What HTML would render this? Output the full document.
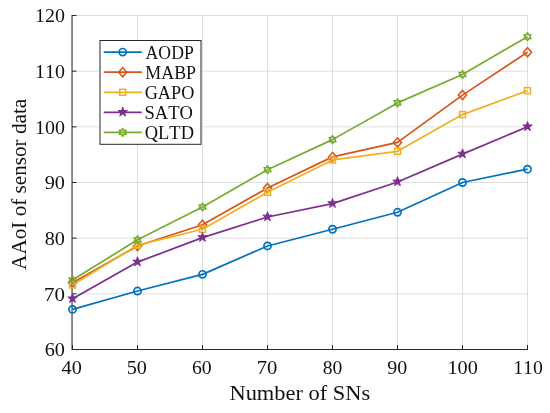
<!DOCTYPE html><html><head><meta charset="utf-8"><style>html,body{margin:0;padding:0;background:#fff;width:550px;height:413px;overflow:hidden}svg{display:block}text{font-kerning:none;font-family:"Liberation Serif","Times New Roman",serif;fill:#111}</style></head><body>
<svg width="550" height="413" viewBox="0 0 550 413">
<rect width="550" height="413" fill="#fff"/>
<path d="M72.5 15.498V349.5M137.5 15.498V349.5M202.5 15.498V349.5M267.5 15.498V349.5M332.5 15.498V349.5M397.5 15.498V349.5M462.5 15.498V349.5M527.5 15.498V349.5M72.5 349.5H527.5M72.5 293.833H527.5M72.5 238.166H527.5M72.5 182.499H527.5M72.5 126.832H527.5M72.5 71.165H527.5M72.5 15.498H527.5" stroke="#dedede" stroke-width="1" fill="none"/>
<path d="M72 14.998V350.0" stroke="#262626" stroke-width="1" fill="none"/>
<path d="M72 349.5H528.0" stroke="#262626" stroke-width="1" fill="none"/>
<path d="M72.5 349.5v-4.5M137.5 349.5v-4.5M202.5 349.5v-4.5M267.5 349.5v-4.5M332.5 349.5v-4.5M397.5 349.5v-4.5M462.5 349.5v-4.5M527.5 349.5v-4.5M72 349.5h4.5M72 293.833h4.5M72 238.166h4.5M72 182.499h4.5M72 126.832h4.5M72 71.165h4.5M72 15.498h4.5" stroke="#262626" stroke-width="1" fill="none"/>
<text x="61.58" y="373.80" font-size="19.5" textLength="20.25" lengthAdjust="spacingAndGlyphs">40</text>
<text x="126.65" y="373.80" font-size="19.5" textLength="20.18" lengthAdjust="spacingAndGlyphs">50</text>
<text x="191.98" y="373.80" font-size="19.5" textLength="19.73" lengthAdjust="spacingAndGlyphs">60</text>
<text x="256.71" y="373.80" font-size="19.5" textLength="20.63" lengthAdjust="spacingAndGlyphs">70</text>
<text x="322.69" y="373.80" font-size="19.5" textLength="19.63" lengthAdjust="spacingAndGlyphs">80</text>
<text x="387.38" y="373.80" font-size="19.5" textLength="19.95" lengthAdjust="spacingAndGlyphs">90</text>
<text x="447.42" y="373.80" font-size="19.5" textLength="30.42" lengthAdjust="spacingAndGlyphs">100</text>
<text x="513.16" y="373.80" font-size="19.5" textLength="29.66" lengthAdjust="spacingAndGlyphs">110</text>
<text x="44.67" y="356.20" font-size="19.5" textLength="20.27" lengthAdjust="spacingAndGlyphs">60</text>
<text x="43.99" y="300.53" font-size="19.5" textLength="20.97" lengthAdjust="spacingAndGlyphs">70</text>
<text x="44.67" y="244.87" font-size="19.5" textLength="20.27" lengthAdjust="spacingAndGlyphs">80</text>
<text x="44.67" y="189.20" font-size="19.5" textLength="20.27" lengthAdjust="spacingAndGlyphs">90</text>
<text x="34.99" y="133.53" font-size="19.5" textLength="29.93" lengthAdjust="spacingAndGlyphs">100</text>
<text x="34.99" y="77.87" font-size="19.5" textLength="29.93" lengthAdjust="spacingAndGlyphs">110</text>
<text x="34.99" y="22.20" font-size="19.5" textLength="29.93" lengthAdjust="spacingAndGlyphs">120</text>
<text x="229.45" y="399.60" font-size="21.5" textLength="140.72" lengthAdjust="spacingAndGlyphs">Number of SNs</text>
<g transform="translate(0,0) rotate(-90)"><text x="-269.90" y="26.40" font-size="21.5" textLength="171.13" lengthAdjust="spacingAndGlyphs">AAoI of sensor data</text></g>
<polyline points="72.50,309.42 137.50,291.05 202.50,274.35 267.50,245.96 332.50,229.26 397.50,212.28 462.50,182.50 527.50,169.14" fill="none" stroke="#0072BD" stroke-width="1.7" stroke-linejoin="round"/>
<circle cx="72.50" cy="309.42" r="3.6" fill="none" stroke="#0072BD" stroke-width="1.7"/>
<circle cx="137.50" cy="291.05" r="3.6" fill="none" stroke="#0072BD" stroke-width="1.7"/>
<circle cx="202.50" cy="274.35" r="3.6" fill="none" stroke="#0072BD" stroke-width="1.7"/>
<circle cx="267.50" cy="245.96" r="3.6" fill="none" stroke="#0072BD" stroke-width="1.7"/>
<circle cx="332.50" cy="229.26" r="3.6" fill="none" stroke="#0072BD" stroke-width="1.7"/>
<circle cx="397.50" cy="212.28" r="3.6" fill="none" stroke="#0072BD" stroke-width="1.7"/>
<circle cx="462.50" cy="182.50" r="3.6" fill="none" stroke="#0072BD" stroke-width="1.7"/>
<circle cx="527.50" cy="169.14" r="3.6" fill="none" stroke="#0072BD" stroke-width="1.7"/>
<polyline points="72.50,282.70 137.50,245.96 202.50,224.81 267.50,188.07 332.50,156.89 397.50,142.42 462.50,95.10 527.50,52.24" fill="none" stroke="#D95319" stroke-width="1.7" stroke-linejoin="round"/>
<polygon points="72.5,278.09999999999997 76.6,282.7 72.5,287.3 68.4,282.7" fill="none" stroke="#D95319" stroke-width="1.5"/>
<polygon points="137.5,241.359 141.6,245.959 137.5,250.559 133.4,245.959" fill="none" stroke="#D95319" stroke-width="1.5"/>
<polygon points="202.5,220.20600000000002 206.6,224.806 202.5,229.406 198.4,224.806" fill="none" stroke="#D95319" stroke-width="1.5"/>
<polygon points="267.5,183.466 271.6,188.066 267.5,192.666 263.4,188.066" fill="none" stroke="#D95319" stroke-width="1.5"/>
<polygon points="332.5,152.292 336.6,156.892 332.5,161.492 328.4,156.892" fill="none" stroke="#D95319" stroke-width="1.5"/>
<polygon points="397.5,137.81900000000002 401.6,142.419 397.5,147.019 393.4,142.419" fill="none" stroke="#D95319" stroke-width="1.5"/>
<polygon points="462.5,90.50200000000001 466.6,95.102 462.5,99.702 458.4,95.102" fill="none" stroke="#D95319" stroke-width="1.5"/>
<polygon points="527.5,47.638 531.6,52.238 527.5,56.838 523.4,52.238" fill="none" stroke="#D95319" stroke-width="1.5"/>
<polyline points="72.50,284.93 137.50,245.12 202.50,229.26 267.50,192.24 332.50,159.95 397.50,151.32 462.50,114.58 527.50,90.65" fill="none" stroke="#EDB120" stroke-width="1.7" stroke-linejoin="round"/>
<rect x="69.50" y="281.93" width="6.0" height="6.0" fill="none" stroke="#EDB120" stroke-width="1.5"/>
<rect x="134.50" y="242.12" width="6.0" height="6.0" fill="none" stroke="#EDB120" stroke-width="1.5"/>
<rect x="199.50" y="226.26" width="6.0" height="6.0" fill="none" stroke="#EDB120" stroke-width="1.5"/>
<rect x="264.50" y="189.24" width="6.0" height="6.0" fill="none" stroke="#EDB120" stroke-width="1.5"/>
<rect x="329.50" y="156.95" width="6.0" height="6.0" fill="none" stroke="#EDB120" stroke-width="1.5"/>
<rect x="394.50" y="148.32" width="6.0" height="6.0" fill="none" stroke="#EDB120" stroke-width="1.5"/>
<rect x="459.50" y="111.58" width="6.0" height="6.0" fill="none" stroke="#EDB120" stroke-width="1.5"/>
<rect x="524.50" y="87.65" width="6.0" height="6.0" fill="none" stroke="#EDB120" stroke-width="1.5"/>
<polyline points="72.50,298.84 137.50,262.10 202.50,237.61 267.50,217.01 332.50,203.65 397.50,181.94 462.50,154.11 527.50,126.83" fill="none" stroke="#7E2F8E" stroke-width="1.7" stroke-linejoin="round"/>
<polygon points="72.50,293.59 73.65,296.97 77.21,297.01 74.35,299.15 75.41,302.55 72.50,300.49 69.59,302.55 70.65,299.15 67.79,297.01 71.35,296.97" fill="#7E2F8E" stroke="#7E2F8E" stroke-width="1"/>
<polygon points="137.50,256.85 138.65,260.23 142.21,260.27 139.35,262.41 140.41,265.81 137.50,263.75 134.59,265.81 135.65,262.41 132.79,260.27 136.35,260.23" fill="#7E2F8E" stroke="#7E2F8E" stroke-width="1"/>
<polygon points="202.50,232.36 203.65,235.73 207.21,235.78 204.35,237.91 205.41,241.31 202.50,239.26 199.59,241.31 200.65,237.91 197.79,235.78 201.35,235.73" fill="#7E2F8E" stroke="#7E2F8E" stroke-width="1"/>
<polygon points="267.50,211.76 268.65,215.14 272.21,215.18 269.35,217.32 270.41,220.72 267.50,218.66 264.59,220.72 265.65,217.32 262.79,215.18 266.35,215.14" fill="#7E2F8E" stroke="#7E2F8E" stroke-width="1"/>
<polygon points="332.50,198.40 333.65,201.77 337.21,201.82 334.35,203.95 335.41,207.36 332.50,205.30 329.59,207.36 330.65,203.95 327.79,201.82 331.35,201.77" fill="#7E2F8E" stroke="#7E2F8E" stroke-width="1"/>
<polygon points="397.50,176.69 398.65,180.06 402.21,180.11 399.35,182.24 400.41,185.65 397.50,183.59 394.59,185.65 395.65,182.24 392.79,180.11 396.35,180.06" fill="#7E2F8E" stroke="#7E2F8E" stroke-width="1"/>
<polygon points="462.50,148.86 463.65,152.23 467.21,152.28 464.35,154.41 465.41,157.81 462.50,155.76 459.59,157.81 460.65,154.41 457.79,152.28 461.35,152.23" fill="#7E2F8E" stroke="#7E2F8E" stroke-width="1"/>
<polygon points="527.50,121.58 528.65,124.95 532.21,125.00 529.35,127.13 530.41,130.54 527.50,128.48 524.59,130.54 525.65,127.13 522.79,125.00 526.35,124.95" fill="#7E2F8E" stroke="#7E2F8E" stroke-width="1"/>
<polyline points="72.50,279.92 137.50,239.84 202.50,206.99 267.50,169.70 332.50,139.63 397.50,102.89 462.50,74.50 527.50,36.65" fill="none" stroke="#77AC30" stroke-width="1.7" stroke-linejoin="round"/>
<polygon points="72.50,275.97 73.64,277.94 75.92,277.94 74.78,279.92 75.92,281.89 73.64,281.89 72.50,283.87 71.36,281.89 69.08,281.89 70.22,279.92 69.08,277.94 71.36,277.94" fill="none" stroke="#77AC30" stroke-width="1.6" stroke-linejoin="round"/>
<polygon points="137.50,235.89 138.64,237.86 140.92,237.86 139.78,239.84 140.92,241.81 138.64,241.81 137.50,243.79 136.36,241.81 134.08,241.81 135.22,239.84 134.08,237.86 136.36,237.86" fill="none" stroke="#77AC30" stroke-width="1.6" stroke-linejoin="round"/>
<polygon points="202.50,203.04 203.64,205.02 205.92,205.02 204.78,206.99 205.92,208.97 203.64,208.97 202.50,210.94 201.36,208.97 199.08,208.97 200.22,206.99 199.08,205.02 201.36,205.02" fill="none" stroke="#77AC30" stroke-width="1.6" stroke-linejoin="round"/>
<polygon points="267.50,165.75 268.64,167.72 270.92,167.72 269.78,169.70 270.92,171.67 268.64,171.67 267.50,173.65 266.36,171.67 264.08,171.67 265.22,169.70 264.08,167.72 266.36,167.72" fill="none" stroke="#77AC30" stroke-width="1.6" stroke-linejoin="round"/>
<polygon points="332.50,135.69 333.64,137.66 335.92,137.66 334.78,139.63 335.92,141.61 333.64,141.61 332.50,143.58 331.36,141.61 329.08,141.61 330.22,139.63 329.08,137.66 331.36,137.66" fill="none" stroke="#77AC30" stroke-width="1.6" stroke-linejoin="round"/>
<polygon points="397.50,98.94 398.64,100.92 400.92,100.92 399.78,102.89 400.92,104.87 398.64,104.87 397.50,106.84 396.36,104.87 394.08,104.87 395.22,102.89 394.08,100.92 396.36,100.92" fill="none" stroke="#77AC30" stroke-width="1.6" stroke-linejoin="round"/>
<polygon points="462.50,70.55 463.64,72.53 465.92,72.53 464.78,74.50 465.92,76.48 463.64,76.48 462.50,78.45 461.36,76.48 459.08,76.48 460.22,74.50 459.08,72.53 461.36,72.53" fill="none" stroke="#77AC30" stroke-width="1.6" stroke-linejoin="round"/>
<polygon points="527.50,32.70 528.64,34.68 530.92,34.68 529.78,36.65 530.92,38.63 528.64,38.63 527.50,40.60 526.36,38.63 524.08,38.63 525.22,36.65 524.08,34.68 526.36,34.68" fill="none" stroke="#77AC30" stroke-width="1.6" stroke-linejoin="round"/>
<rect x="100" y="40.5" width="101" height="103.8" fill="#fff" stroke="#262626" stroke-width="1"/>
<line x1="103.7" y1="52.099999999999994" x2="141.8" y2="52.099999999999994" stroke="#0072BD" stroke-width="1.7"/>
<circle cx="122.70" cy="52.10" r="3.6" fill="none" stroke="#0072BD" stroke-width="1.7"/>
<text x="145.60" y="58.60" font-size="18.3" textLength="48.14" lengthAdjust="spacingAndGlyphs">AODP</text>
<line x1="103.7" y1="72.2" x2="141.8" y2="72.2" stroke="#D95319" stroke-width="1.7"/>
<polygon points="122.7,67.60000000000001 126.8,72.2 122.7,76.8 118.60000000000001,72.2" fill="none" stroke="#D95319" stroke-width="1.5"/>
<text x="145.32" y="78.70" font-size="18.3" textLength="50.73" lengthAdjust="spacingAndGlyphs">MABP</text>
<line x1="103.7" y1="92.3" x2="141.8" y2="92.3" stroke="#EDB120" stroke-width="1.7"/>
<rect x="119.70" y="89.30" width="6.0" height="6.0" fill="none" stroke="#EDB120" stroke-width="1.5"/>
<text x="144.73" y="98.80" font-size="18.3" textLength="49.60" lengthAdjust="spacingAndGlyphs">GAPO</text>
<line x1="103.7" y1="112.39999999999999" x2="141.8" y2="112.39999999999999" stroke="#7E2F8E" stroke-width="1.7"/>
<polygon points="122.70,107.15 123.85,110.52 127.41,110.57 124.55,112.70 125.61,116.10 122.70,114.05 119.79,116.10 120.85,112.70 117.99,110.57 121.55,110.52" fill="#7E2F8E" stroke="#7E2F8E" stroke-width="1"/>
<text x="144.44" y="118.90" font-size="18.3" textLength="48.50" lengthAdjust="spacingAndGlyphs">SATO</text>
<line x1="103.7" y1="132.3" x2="141.8" y2="132.3" stroke="#77AC30" stroke-width="1.7"/>
<polygon points="122.70,128.35 123.84,130.33 126.12,130.33 124.98,132.30 126.12,134.28 123.84,134.27 122.70,136.25 121.56,134.27 119.28,134.28 120.42,132.30 119.28,130.33 121.56,130.33" fill="none" stroke="#77AC30" stroke-width="1.6" stroke-linejoin="round"/>
<text x="144.72" y="138.80" font-size="18.3" textLength="49.32" lengthAdjust="spacingAndGlyphs">QLTD</text>
</svg></body></html>
